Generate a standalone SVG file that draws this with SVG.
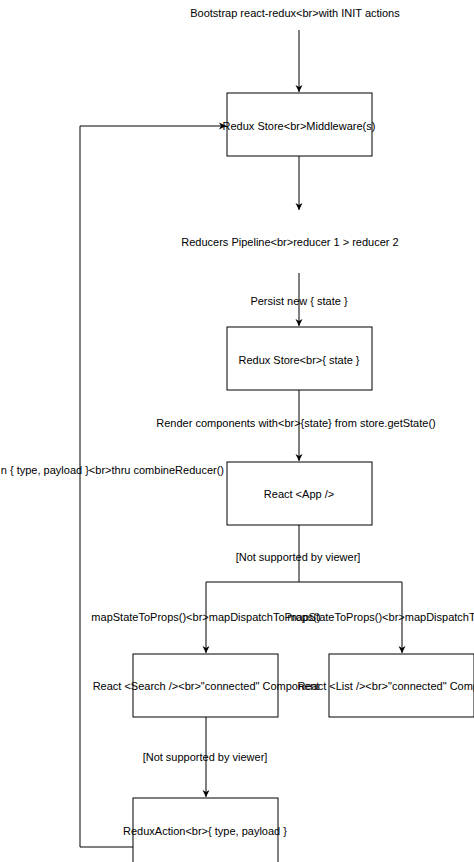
<svg xmlns="http://www.w3.org/2000/svg" width="474" height="862" viewBox="0 0 474 862">
<style>
text{font-family:"Liberation Sans",Arial,sans-serif;font-size:11px;fill:#000;text-anchor:middle}
.box{fill:#fff;stroke:#000;stroke-width:1}
.edge{fill:none;stroke:#000;stroke-width:1}
</style>
<defs>
<marker id="arr" markerWidth="8" markerHeight="8" refX="7" refY="4" orient="auto" markerUnits="userSpaceOnUse">
<path d="M0,0.5 L7,4 L0,7.5 L2,4 Z" fill="#000"/>
</marker>
</defs>
<rect width="474" height="862" fill="#fff"/>
<g id="connectors">
<path class="edge" d="M299,30 V92" marker-end="url(#arr)"/>
<path class="edge" d="M299,156 V210" marker-end="url(#arr)"/>
<path class="edge" d="M299,273 V326" marker-end="url(#arr)"/>
<path class="edge" d="M299,390 V461" marker-end="url(#arr)"/>
<path class="edge" d="M299,525 V582 H206 V653" marker-end="url(#arr)"/>
<path class="edge" d="M299,582 H402 V653" marker-end="url(#arr)"/>
<path class="edge" d="M206,717 V797" marker-end="url(#arr)"/>
<path class="edge" d="M133,847 H80 V126 H226" marker-end="url(#arr)"/>
<text x="299" y="305">Persist new { state }</text>
<text x="296" y="427">Render components with&lt;br&gt;{state} from store.getState()</text>
<text x="298" y="561">[Not supported by viewer]</text>
<text x="206" y="621">mapStateToProps()&lt;br&gt;mapDispatchToProps()</text>
<text x="402" y="621">mapStateToProps()&lt;br&gt;mapDispatchToProps()</text>
<text x="205" y="761">[Not supported by viewer]</text>
<text x="224" y="474" style="text-anchor:end">n { type, payload }&lt;br&gt;thru combineReducer()</text>
</g>
<g id="bootstrap">
<text x="295" y="17">Bootstrap react-redux&lt;br&gt;with INIT actions</text>
</g>
<g id="store-middleware">
<rect class="box" x="227" y="93" width="145" height="63"/>
<text x="299" y="130">Redux Store&lt;br&gt;Middleware(s)</text>
</g>
<g id="reducers">
<text x="290" y="246">Reducers Pipeline&lt;br&gt;reducer 1 &gt; reducer 2</text>
</g>
<g id="store-state">
<rect class="box" x="227" y="327" width="145" height="63"/>
<text x="299" y="364">Redux Store&lt;br&gt;{ state }</text>
</g>
<g id="app">
<rect class="box" x="227" y="462" width="145" height="63"/>
<text x="299" y="498">React &lt;App /&gt;</text>
</g>
<g id="search">
<rect class="box" x="133" y="654" width="145" height="63"/>
<text x="206" y="690">React &lt;Search /&gt;&lt;br&gt;"connected" Component</text>
</g>
<g id="list">
<rect class="box" x="329" y="654" width="145" height="63"/>
<text x="402" y="690">React &lt;List /&gt;&lt;br&gt;"connected" Component</text>
</g>
<g id="action">
<rect class="box" x="133" y="798" width="145" height="70"/>
<text x="205" y="835">ReduxAction&lt;br&gt;{ type, payload }</text>
</g>
</svg>
